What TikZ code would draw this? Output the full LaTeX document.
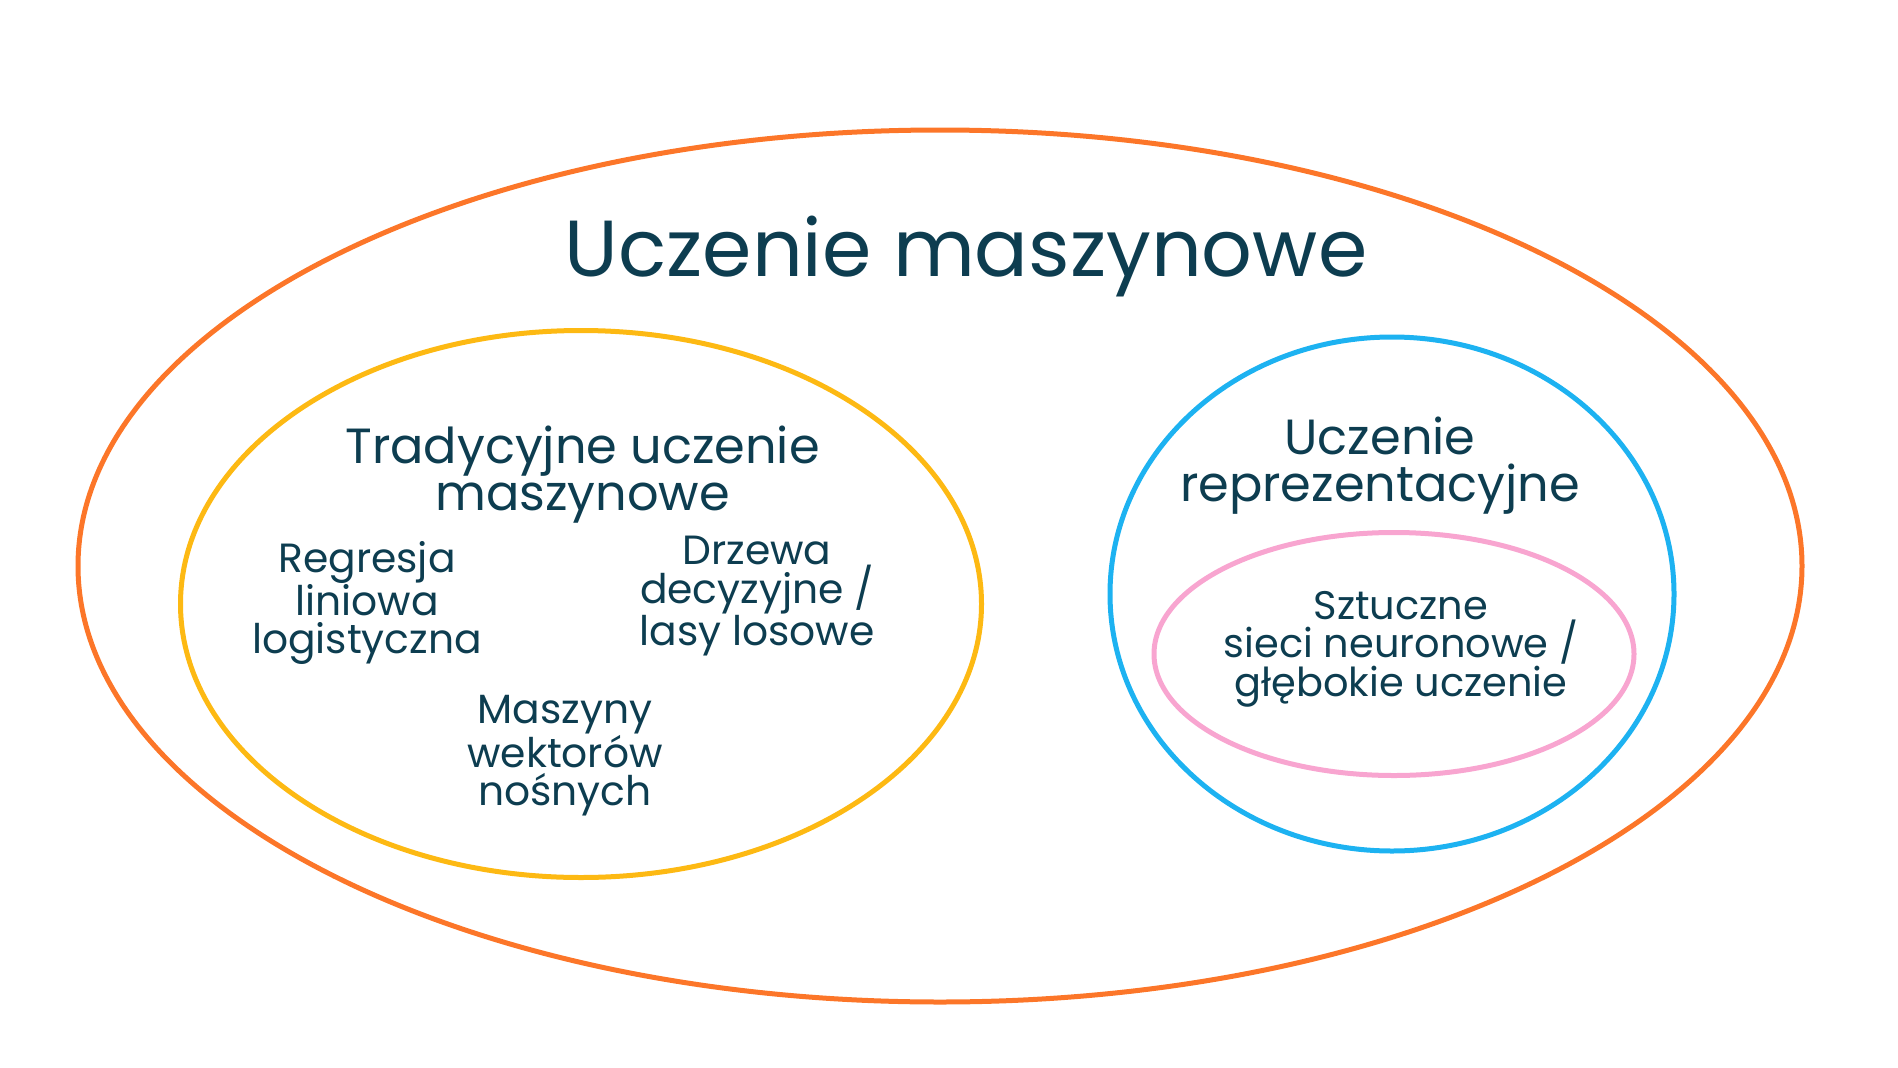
\documentclass[tikz,border=0pt]{standalone}
\usepackage{fontspec}
\setmainfont{Poppins}
\usepackage{xcolor}
\definecolor{ink}{HTML}{0D3D50}
\definecolor{mlorange}{HTML}{FC7629}
\definecolor{mlyellow}{HTML}{FDB913}
\definecolor{mlblue}{HTML}{1DB2F1}
\definecolor{mlpink}{HTML}{F8A5D0}

\begin{document}
\begin{tikzpicture}[x=1pt,y=-1pt,
        ring/.style={line width=5pt},
        bigtxt/.style={text=ink,font=\fontsize{79.5}{88}\selectfont},
        midtxt/.style={text=ink,align=center,font=\fontsize{49.4}{47}\selectfont},
        smalltxt/.style={text=ink,align=center,font=\fontsize{40.8}{38.5}\selectfont}]
            \useasboundingbox (0,0) rectangle (1898,1068);
            \draw[ring,mlorange] (940,566) ellipse (862 and 436);
            \draw[ring,mlyellow] (581,604) ellipse (400.5 and 273.5);
            \draw[ring,mlblue] (1392,594) ellipse (282 and 257);
            \draw[ring,mlpink] (1394,654) ellipse (240 and 121.5);
            \node (ml) at (966,257) [bigtxt] {Uczenie maszynowe};
            \node (trad) at (582.5,474.5) [midtxt] {Tradycyjne uczenie\\maszynowe};
            \node (reg) at (367,603) [smalltxt] {Regresja\\liniowa\\logistyczna};
            \node (tree) at (757,596) [smalltxt] {Drzewa\\decyzyjne /\\lasy losowe};
            \node (svm) at (565,756) [smalltxt] {Maszyny\\wektorów\\nośnych};
            \node (repr) at (1380,466) [midtxt] {Uczenie\\reprezentacyjne};
            \node (deep) at (1401,649) [smalltxt,font=\fontsize{39.9}{38.5}\selectfont] {Sztuczne\\sieci neuronowe /\\głębokie uczenie};
        \end{tikzpicture}
\end{document}
